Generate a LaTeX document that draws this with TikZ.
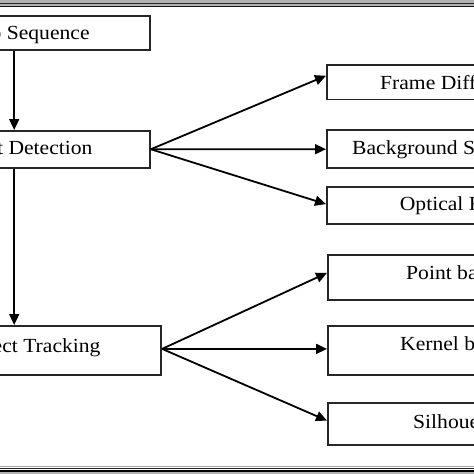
\documentclass[tikz,border=0pt]{standalone}
\usepackage{fontspec}
\setmainfont{Liberation Serif}[FakeStretch=1.08]
\usetikzlibrary{arrows.meta}
\begin{document}
\begin{tikzpicture}[x=1pt,y=-1pt,
  box/.style={draw=black!85,line width=1.8pt,rectangle,inner sep=0pt,anchor=north west},
  lbl/.style={inner sep=0pt,font=\fontsize{20}{22}\selectfont},
  arr/.style={draw=black,line width=1.8pt,-{Triangle[length=11pt,width=10pt]}}]
\useasboundingbox (0,0) rectangle (474,474);
\clip (0,0) rectangle (474,474);
% frame bands
\fill[gray!60] (0,0) rectangle (474,6.4);
\draw[black!85,line width=1.3pt] (0,3.7) -- (474,3.7);
\draw[black!90,line width=1.2pt] (0,6.3) -- (474,6.3);
\fill[gray!60] (0,471.5) rectangle (474,474);
\draw[gray!70,line width=0.8pt] (0,466.3) -- (474,466.3);
\draw[black!85,line width=1.6pt] (0,468.5) -- (474,468.5);
\draw[black,line width=1.8pt] (0,470.8) -- (474,470.8);
% left boxes
\node[box,minimum width=271.4pt,minimum height=34pt] (seq) at (-122.4,15) {};
\node[box,minimum width=271.4pt,minimum height=36.7pt] (det) at (-122.4,130) {};
\node[box,minimum width=294pt,minimum height=49pt] (trk) at (-133.7,325) {};
% right boxes
\node[box,minimum width=234pt,minimum height=34.3pt] (fd) at (326,64.2) {};
\node[box,minimum width=234pt,minimum height=38pt] (bs) at (326,129.3) {};
\node[box,minimum width=234pt,minimum height=37pt] (of) at (326,185.7) {};
\node[box,minimum width=233pt,minimum height=45pt] (pb) at (327,254) {};
\node[box,minimum width=233pt,minimum height=49pt] (kb) at (327,325) {};
\node[box,minimum width=233pt,minimum height=42pt] (sb) at (327,402) {};
% labels
\node[lbl,anchor=base east] (tseq) at (89.8,39) {Video Sequence};
\node[lbl,anchor=base east] (tdet) at (92.7,154) {Object Detection};
\node[lbl,anchor=base east] (ttrk) at (100.7,352) {Object Tracking};
\node[lbl,anchor=base west] (tfd) at (380,89.3) {Frame Differencing};
\node[lbl,anchor=base west] (tbs) at (352,154.3) {Background Subtraction};
\node[lbl,anchor=base west] (tof) at (399.7,210.7) {Optical Flow};
\node[lbl,anchor=base west] (tpb) at (406,279.3) {Point based};
\node[lbl,anchor=base west] (tkb) at (400,350.3) {Kernel based};
\node[lbl,anchor=base west] (tsb) at (413,428) {Silhouette based};
% connectors
\draw[arr] (seq.south) -- (det.north);
\draw[arr] (det.south) -- (trk.north);
\draw[arr] (det.east) -- ([yshift=6.5pt]fd.west);
\draw[arr] (det.east) -- (bs.west);
\draw[arr] (det.east) -- ([yshift=1pt]of.west);
\draw[arr] ([yshift=1.5pt]trk.east) -- ([yshift=4.5pt]pb.west);
\draw[arr] ([yshift=1.5pt]trk.east) -- ([yshift=1.5pt]kb.west);
\draw[arr] ([yshift=1.5pt]trk.east) -- ([yshift=3.3pt]sb.west);
\end{tikzpicture}
\end{document}
